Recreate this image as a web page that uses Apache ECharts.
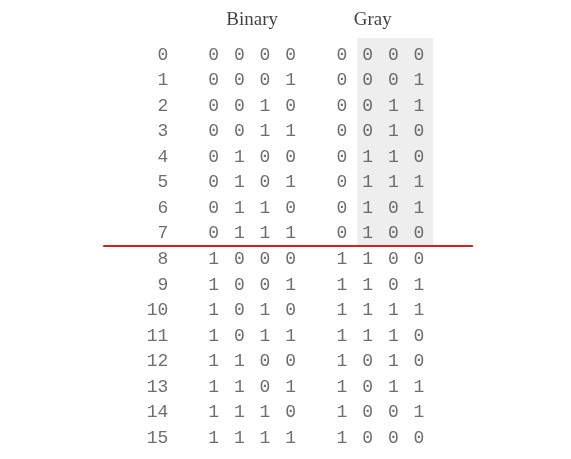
<!DOCTYPE html><html><head><meta charset="utf-8"><script src="https://cdn.jsdelivr.net/npm/echarts@6/dist/echarts.min.js"></script></head><body style="margin:0"><div id="c" style="width:571px;height:459px"></div><script>
const decimals=[0,1,2,3,4,5,6,7,8,9,10,11,12,13,14,15];
const binary=["0000","0001","0010","0011","0100","0101","0110","0111","1000","1001","1010","1011","1100","1101","1110","1111"];
const gray=["0000","0001","0011","0010","0110","0111","0101","0100","1100","1101","1111","1110","1010","1011","1001","1000"];
const headers=[["Binary",3.5],["Gray",8.2]];
const digits=[];
binary.forEach((s,r)=>s.split('').forEach((d,i)=>digits.push([2+i,r,d])));
gray.forEach((s,r)=>s.split('').forEach((d,i)=>digits.push([7+i,r,d])));
const decData=decimals.map(v=>[0,v,String(v)]);
const hdrData=headers.map(h=>[h[1],-1.38,h[0]]);
const mono={fontFamily:'Liberation Mono',fontSize:18,color:'#4a4a4a'};
const chart=echarts.init(document.getElementById('c'));
chart.setOption({animation:false,backgroundColor:'#fff',
grid:{left:0,right:0,top:0,bottom:0},
xAxis:{type:'value',min:-6.32,max:15.92,show:false},
yAxis:{type:'value',min:-2.154,max:15.825,inverse:true,show:false},
series:[
{type:'scatter',symbolSize:0,data:digits,label:{show:true,position:'inside',formatter:p=>p.data[2],...mono},
 markArea:{silent:true,itemStyle:{color:'#eeeeee'},data:[[{coord:[7.6,-0.67]},{coord:[10.55,7.47]}]]},z:3},
{type:'scatter',symbolSize:0,data:decData,label:{show:true,position:'inside',align:'right',offset:[6,0],formatter:p=>p.data[2],...mono}},
{type:'scatter',symbolSize:0,data:hdrData,label:{show:true,position:'inside',formatter:p=>p.data[2],fontFamily:'Liberation Serif',fontSize:19,color:'#111'},
 markLine:{silent:true,symbol:'none',label:{show:false},lineStyle:{color:'#d42020',width:2,type:'solid'},data:[[{coord:[-2.3,7.48]},{coord:[12.1,7.48]}]]}}
]});
</script></body></html>
